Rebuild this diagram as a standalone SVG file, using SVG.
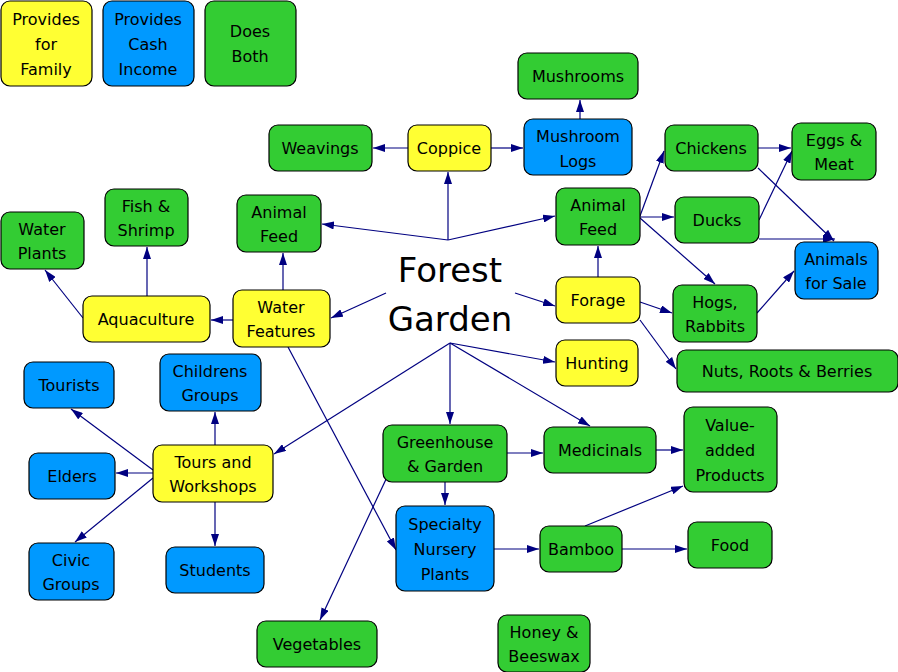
<svg xmlns="http://www.w3.org/2000/svg" width="898" height="672" viewBox="0 0 898 672">
<defs>
<marker id="a" viewBox="0 0 12 8" refX="12" refY="4" markerWidth="12" markerHeight="8" markerUnits="userSpaceOnUse" orient="auto"><path d="M0,0 L12,4 L0,8 Z" fill="#000080"/></marker>
</defs>
<style>
rect{stroke:#000;stroke-width:1.2}
.y{fill:#ffff33}.b{fill:#0099ff}.g{fill:#33cc33}
text{font-family:"DejaVu Sans","Noto Sans",sans-serif;font-size:16px;fill:#000;text-anchor:middle}
.big{font-size:34px}
#c line,#c polyline{stroke:#000080;stroke-width:1.2;fill:none}
</style>
<rect width="898" height="672" fill="#fff" style="stroke:none"/>
<g id="c">
<line x1="448" y1="240" x2="322" y2="224" marker-end="url(#a)"/>
<line x1="448" y1="240" x2="448" y2="172" marker-end="url(#a)"/>
<line x1="448" y1="240" x2="555" y2="216" marker-end="url(#a)"/>
<line x1="408" y1="148" x2="373" y2="148" marker-end="url(#a)"/>
<line x1="491" y1="148" x2="523" y2="148" marker-end="url(#a)"/>
<line x1="580" y1="119" x2="580" y2="100" marker-end="url(#a)"/>
<line x1="640" y1="216" x2="664" y2="151" marker-end="url(#a)"/>
<line x1="640" y1="217" x2="674" y2="217" marker-end="url(#a)"/>
<line x1="640" y1="218" x2="715" y2="284" marker-end="url(#a)"/>
<line x1="758" y1="148" x2="791" y2="148" marker-end="url(#a)"/>
<line x1="758" y1="168" x2="834" y2="241" marker-end="url(#a)"/>
<line x1="759" y1="220" x2="792" y2="151" marker-end="url(#a)"/>
<line x1="759" y1="239" x2="835" y2="239" marker-end="url(#a)"/>
<line x1="757" y1="313" x2="794" y2="271" marker-end="url(#a)"/>
<line x1="640" y1="302" x2="672" y2="313" marker-end="url(#a)"/>
<line x1="640" y1="320" x2="676" y2="369" marker-end="url(#a)"/>
<line x1="598" y1="277" x2="598" y2="246" marker-end="url(#a)"/>
<line x1="515" y1="293" x2="555" y2="306" marker-end="url(#a)"/>
<line x1="386" y1="293" x2="331" y2="318" marker-end="url(#a)"/>
<line x1="283" y1="290" x2="283" y2="253" marker-end="url(#a)"/>
<line x1="233" y1="320" x2="211" y2="320" marker-end="url(#a)"/>
<line x1="147" y1="296" x2="147" y2="247" marker-end="url(#a)"/>
<line x1="83" y1="318" x2="45" y2="270" marker-end="url(#a)"/>
<line x1="288" y1="347" x2="396" y2="550" marker-end="url(#a)"/>
<line x1="450" y1="343" x2="555" y2="362" marker-end="url(#a)"/>
<line x1="450" y1="343" x2="450" y2="424" marker-end="url(#a)"/>
<line x1="450" y1="343" x2="590" y2="426" marker-end="url(#a)"/>
<line x1="450" y1="343" x2="274" y2="454" marker-end="url(#a)"/>
<line x1="507" y1="453" x2="543" y2="453" marker-end="url(#a)"/>
<line x1="656" y1="450" x2="683" y2="450" marker-end="url(#a)"/>
<line x1="445" y1="482" x2="445" y2="505" marker-end="url(#a)"/>
<line x1="388" y1="475" x2="320" y2="620" marker-end="url(#a)"/>
<line x1="585" y1="526" x2="683" y2="486" marker-end="url(#a)"/>
<line x1="494" y1="549" x2="539" y2="549" marker-end="url(#a)"/>
<line x1="622" y1="549" x2="687" y2="549" marker-end="url(#a)"/>
<line x1="215" y1="445" x2="215" y2="412" marker-end="url(#a)"/>
<line x1="153" y1="470" x2="71" y2="409" marker-end="url(#a)"/>
<line x1="153" y1="473" x2="116" y2="473" marker-end="url(#a)"/>
<line x1="153" y1="478" x2="75" y2="542" marker-end="url(#a)"/>
<line x1="215" y1="502" x2="215" y2="546" marker-end="url(#a)"/>
</g>
<g id="legend-family"><rect class="y" x="1" y="1" width="91" height="85" rx="9"/><text x="46" y="25">Provides</text><text x="46" y="50">for</text><text x="46" y="75">Family</text></g>
<g id="legend-cash"><rect class="b" x="103" y="1" width="91" height="85" rx="9"/><text x="148" y="25">Provides</text><text x="148" y="50">Cash</text><text x="148" y="75">Income</text></g>
<g id="legend-both"><rect class="g" x="205" y="1" width="91" height="85" rx="9"/><text x="250" y="37">Does</text><text x="250" y="62">Both</text></g>
<g id="forest"><text class="big" x="450" y="282">Forest</text><text class="big" x="450" y="331">Garden</text></g>
<g id="mushrooms"><rect class="g" x="518" y="53" width="120" height="46" rx="9"/><text x="578" y="82">Mushrooms</text></g>
<g id="weavings"><rect class="g" x="269" y="125" width="103" height="46" rx="9"/><text x="320" y="154">Weavings</text></g>
<g id="coppice"><rect class="y" x="408" y="125" width="83" height="46" rx="9"/><text x="449" y="154">Coppice</text></g>
<g id="mlogs"><rect class="b" x="524" y="119" width="108" height="56" rx="9"/><text x="578" y="142">Mushroom</text><text x="578" y="167">Logs</text></g>
<g id="chickens"><rect class="g" x="665" y="125" width="93" height="46" rx="9"/><text x="711" y="154">Chickens</text></g>
<g id="eggs"><rect class="g" x="792" y="123" width="84" height="57" rx="9"/><text x="834" y="146">Eggs &amp;</text><text x="834" y="170">Meat</text></g>
<g id="feed-r"><rect class="g" x="556" y="188" width="84" height="57" rx="9"/><text x="598" y="211">Animal</text><text x="598" y="235">Feed</text></g>
<g id="ducks"><rect class="g" x="675" y="197" width="84" height="46" rx="9"/><text x="717" y="226">Ducks</text></g>
<g id="feed-l"><rect class="g" x="237" y="195" width="84" height="57" rx="9"/><text x="279" y="218">Animal</text><text x="279" y="242">Feed</text></g>
<g id="fish"><rect class="g" x="105" y="189" width="83" height="57" rx="9"/><text x="146" y="212">Fish &amp;</text><text x="146" y="236">Shrimp</text></g>
<g id="waterplants"><rect class="g" x="1" y="212" width="83" height="57" rx="9"/><text x="42" y="235">Water</text><text x="42" y="259">Plants</text></g>
<g id="sale"><rect class="b" x="795" y="242" width="83" height="57" rx="9"/><text x="836" y="265">Animals</text><text x="836" y="289">for Sale</text></g>
<g id="forage"><rect class="y" x="556" y="277" width="84" height="46" rx="9"/><text x="598" y="306">Forage</text></g>
<g id="hogs"><rect class="g" x="673" y="285" width="84" height="57" rx="9"/><text x="715" y="308">Hogs,</text><text x="715" y="332">Rabbits</text></g>
<g id="aqua"><rect class="y" x="83" y="296" width="127" height="46" rx="9"/><text x="146" y="325">Aquaculture</text></g>
<g id="waterfeat"><rect class="y" x="233" y="290" width="97" height="57" rx="9"/><text x="281" y="313">Water</text><text x="281" y="337">Features</text></g>
<g id="hunting"><rect class="y" x="556" y="340" width="82" height="46" rx="9"/><text x="597" y="369">Hunting</text></g>
<g id="nuts"><rect class="g" x="677" y="350" width="221" height="42" rx="9"/><text x="787" y="377">Nuts, Roots &amp; Berries</text></g>
<g id="tourists"><rect class="b" x="24" y="362" width="90" height="46" rx="9"/><text x="69" y="391">Tourists</text></g>
<g id="childrens"><rect class="b" x="160" y="354" width="101" height="57" rx="9"/><text x="210" y="377">Childrens</text><text x="210" y="401">Groups</text></g>
<g id="tours"><rect class="y" x="153" y="445" width="120" height="57" rx="9"/><text x="213" y="468">Tours and</text><text x="213" y="492">Workshops</text></g>
<g id="greenhouse"><rect class="g" x="383" y="425" width="124" height="57" rx="9"/><text x="445" y="448">Greenhouse</text><text x="445" y="472">&amp; Garden</text></g>
<g id="medicinals"><rect class="g" x="544" y="427" width="112" height="46" rx="9"/><text x="600" y="456">Medicinals</text></g>
<g id="value"><rect class="g" x="684" y="407" width="93" height="85" rx="9"/><text x="730" y="431">Value-</text><text x="730" y="456">added</text><text x="730" y="481">Products</text></g>
<g id="elders"><rect class="b" x="29" y="453" width="86" height="46" rx="9"/><text x="72" y="482">Elders</text></g>
<g id="nursery"><rect class="b" x="396" y="506" width="98" height="85" rx="9"/><text x="445" y="530">Specialty</text><text x="445" y="555">Nursery</text><text x="445" y="580">Plants</text></g>
<g id="bamboo"><rect class="g" x="540" y="526" width="82" height="46" rx="9"/><text x="581" y="555">Bamboo</text></g>
<g id="food"><rect class="g" x="688" y="522" width="84" height="46" rx="9"/><text x="730" y="551">Food</text></g>
<g id="civic"><rect class="b" x="29" y="543" width="85" height="57" rx="9"/><text x="71" y="566">Civic</text><text x="71" y="590">Groups</text></g>
<g id="students"><rect class="b" x="166" y="547" width="98" height="46" rx="9"/><text x="215" y="576">Students</text></g>
<g id="vegetables"><rect class="g" x="257" y="621" width="120" height="46" rx="9"/><text x="317" y="650">Vegetables</text></g>
<g id="honey"><rect class="g" x="498" y="615" width="92" height="57" rx="9"/><text x="544" y="638">Honey &amp;</text><text x="544" y="662">Beeswax</text></g>
</svg>
